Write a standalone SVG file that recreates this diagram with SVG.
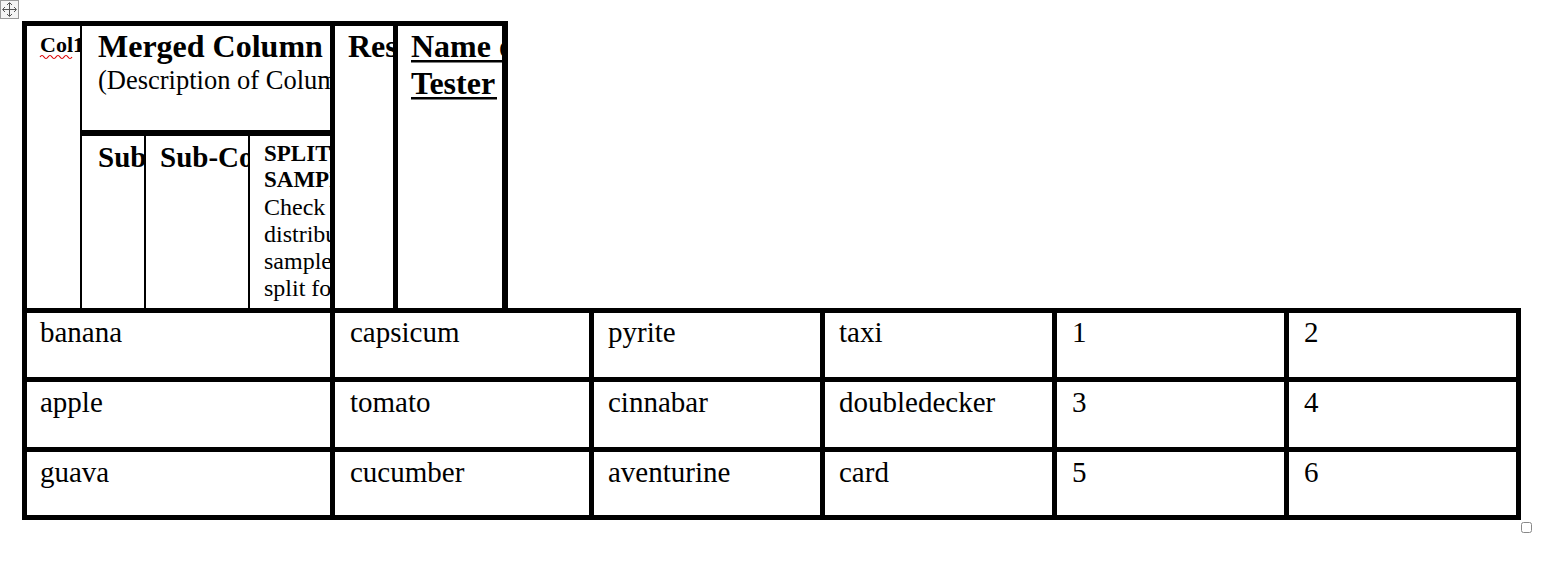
<svg xmlns="http://www.w3.org/2000/svg" width="1556" height="588" viewBox="0 0 1556 588">
<style>
text{font-family:"Liberation Serif","Times New Roman",serif;fill:#000}
.b{font-size:29px}
.h{font-size:32px;font-weight:bold}
.d{font-size:26.5px}
.s{font-size:23px;font-weight:bold}
.n{font-size:24px}
</style>
<defs>
<clipPath id="c1"><rect x="27" y="26" width="53" height="282"/></clipPath>
<clipPath id="c2"><rect x="83" y="26" width="247" height="105"/></clipPath>
<clipPath id="c3"><rect x="83" y="136" width="61" height="172"/></clipPath>
<clipPath id="c4"><rect x="147" y="136" width="101" height="172"/></clipPath>
<clipPath id="c5"><rect x="251" y="136" width="79" height="172"/></clipPath>
<clipPath id="c6"><rect x="335" y="26" width="58" height="282"/></clipPath>
<clipPath id="c7"><rect x="398" y="26" width="104" height="282"/></clipPath>
</defs>
<rect x="0" y="0" width="1556" height="588" fill="#fff"/>
<g id="move-handle"><rect x="0.5" y="0.5" width="18" height="18" fill="#f4f4f4" stroke="#999"/><path d="M9.5 3v13M3 9.5h13M7 5l2.5-2.5L12 5M7 14l2.5 2.5L12 14M5 7l-2.5 2.5L5 12M14 7l2.5 2.5L14 12" stroke="#555" fill="none" stroke-width="1"/></g>
<g id="resize-handle"><rect x="1521.5" y="522.5" width="10" height="10" rx="2" fill="#fff" stroke="#888"/></g>
<g id="header">
<g id="h-col" clip-path="url(#c1)"><text x="40" y="52" style="font-size:22px;font-weight:bold">Col1</text><path d="M40 57q2-3 4 0t4 0t4 0t4 0t4 0t4 0t4 0t4 0" stroke="#d00" fill="none" stroke-width="1.2"/></g>
<g id="h-merged" clip-path="url(#c2)"><text x="98" y="57" class="h">Merged Column</text><text x="98" y="89" class="d">(Description of Column)</text></g>
<g id="h-sub1" clip-path="url(#c3)"><text x="98" y="167" class="h" style="font-size:29px">Sub-Column</text></g>
<g id="h-sub2" clip-path="url(#c4)"><text x="160" y="167" class="h" style="font-size:29px">Sub-Column</text></g>
<g id="h-split" clip-path="url(#c5)"><text x="264" y="161" class="s">SPLIT</text><text x="264" y="187" class="s">SAMPLE</text><text x="264" y="215" class="n">Check</text><text x="264" y="242" class="n">distribution</text><text x="264" y="269" class="n">sample</text><text x="264" y="296" class="n">split for</text></g>
<g id="h-res" clip-path="url(#c6)"><text x="348" y="57" class="h">Result</text></g>
<g id="h-name" clip-path="url(#c7)"><text x="411" y="57" class="h">Name of</text><text x="411" y="94" class="h">Tester</text><rect x="411" y="60" width="100" height="2.5"/><rect x="411" y="97" width="86" height="2.5"/></g>
<g id="h-lines">
<rect x="22" y="21" width="486" height="5"/>
<rect x="22" y="21" width="5" height="291"/>
<rect x="502" y="21" width="6" height="291"/>
<rect x="330" y="21" width="5" height="291"/>
<rect x="393" y="21" width="5" height="291"/>
<rect x="80" y="21" width="2" height="291"/>
<rect x="82" y="130" width="250" height="6"/>
<rect x="144" y="136" width="2" height="172"/>
<rect x="248" y="136" width="2" height="172"/>
</g>
</g>
<g id="body">
<g id="b-lines">
<rect x="22" y="308" width="1499" height="5"/>
<rect x="22" y="377" width="1499" height="5"/>
<rect x="22" y="447" width="1499" height="5"/>
<rect x="22" y="515" width="1499" height="5"/>
<rect x="22" y="308" width="5" height="212"/>
<rect x="330" y="308" width="5" height="212"/>
<rect x="589" y="308" width="5" height="212"/>
<rect x="820" y="308" width="5" height="212"/>
<rect x="1052" y="308" width="5" height="212"/>
<rect x="1284" y="308" width="5" height="212"/>
<rect x="1516" y="308" width="5" height="212"/>
</g>
<g id="r1"><text x="40" y="342" class="b">banana</text><text x="350" y="342" class="b">capsicum</text><text x="608" y="342" class="b">pyrite</text><text x="839" y="342" class="b">taxi</text><text x="1072" y="342" class="b">1</text><text x="1304" y="342" class="b">2</text></g>
<g id="r2"><text x="40" y="412" class="b">apple</text><text x="350" y="412" class="b">tomato</text><text x="608" y="412" class="b">cinnabar</text><text x="839" y="412" class="b">doubledecker</text><text x="1072" y="412" class="b">3</text><text x="1304" y="412" class="b">4</text></g>
<g id="r3"><text x="40" y="482" class="b">guava</text><text x="350" y="482" class="b">cucumber</text><text x="608" y="482" class="b">aventurine</text><text x="839" y="482" class="b">card</text><text x="1072" y="482" class="b">5</text><text x="1304" y="482" class="b">6</text></g>
</g>
</svg>
